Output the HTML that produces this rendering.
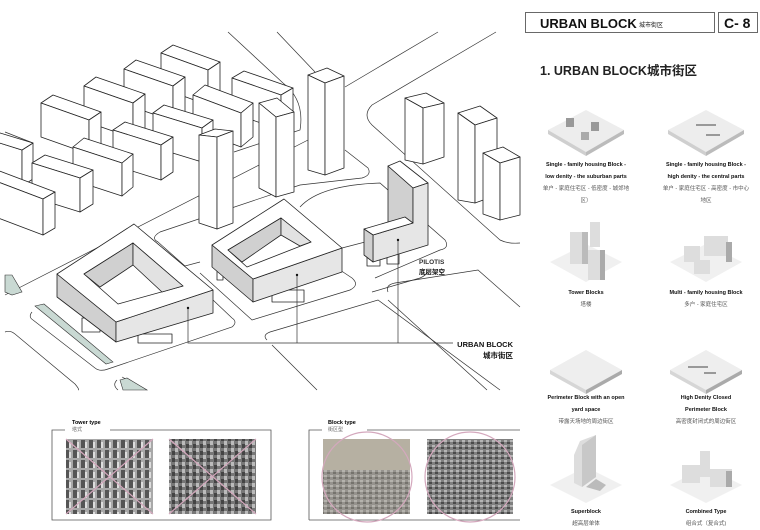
<!DOCTYPE html>
<html><head><meta charset="utf-8"><style>
html,body{margin:0;padding:0;background:#fff;}
body{width:760px;height:529px;overflow:hidden;position:relative;font-family:"Liberation Sans","Noto Sans CJK SC",sans-serif;}
svg{position:absolute;left:0;top:0;}
.cap{position:absolute;width:120px;text-align:center;font-size:5.5px;line-height:12px;color:#111;}
.cap b{font-weight:bold;}
.cap span{color:#555;}
</style></head><body>
<svg width="760" height="529" viewBox="0 0 760 529" xmlns="http://www.w3.org/2000/svg">
<defs>
<pattern id="p1" width="8" height="10" patternUnits="userSpaceOnUse"><rect width="8" height="10" fill="#a8a8a8"/><rect x="1" y="0" width="4" height="8" fill="#555"/><rect x="5" y="2" width="2" height="6" fill="#ddd"/></pattern>
<pattern id="p2" width="7" height="7" patternUnits="userSpaceOnUse"><rect width="7" height="7" fill="#777"/><rect x="0" y="0" width="3" height="4" fill="#bbb"/><rect x="4" y="3" width="3" height="4" fill="#444"/></pattern>
<pattern id="p3" width="6" height="5" patternUnits="userSpaceOnUse"><rect width="6" height="5" fill="#808080"/><rect x="0" y="0" width="3" height="2" fill="#b5b5b5"/><rect x="3" y="2" width="3" height="2" fill="#4a4a4a"/></pattern>
</defs>
<g fill="none" stroke="#333" stroke-width="0.7">
<path d="M228,32 L283,83"/><path d="M277,32 L315,72"/><path d="M438,32 L345,87"/>
<path d="M496,32 L372,105 Q362,115 372,125 L500,240 Q508,244 520,243"/>
<path d="M5,295 L308,140"/>
<path d="M5,132 L33,143"/>
<path d="M234,152 L300,130 Q305,100 283,83"/>
<path d="M345,150 L368,168 Q372,175 362,178 L300,185 L160,232 Q150,238 158,242 L185,266 L200,262"/>
<path d="M300,207 Q320,185 380,183 L445,240 Q450,248 440,250 L375,278"/>
<path d="M342,248 L400,233"/>
<path d="M200,273 L252,320 L350,290 Q360,285 352,278 L340,270"/>
<path d="M32,312 Q28,317 33,320 L95,368 Q100,372 108,369 L232,327 Q238,322 232,318 L213,300"/>
<path d="M5,332 Q10,330 15,334 L75,384 Q80,390 78,390"/>
<path d="M117,380 Q112,385 118,390"/><path d="M122,377 L147,390"/>
<path d="M267,340 Q262,335 270,332 L378,300 L500,390"/>
<path d="M272,345 L317,390"/>
<path d="M388,292 Q385,285 395,283 L478,270 L520,307"/>
<path d="M388,300 L487,390"/>
<path d="M372,292 L420,278 Q425,276 428,272"/>
</g>
<polygon points="5,275 12,275 22,292 12,295 5,292" fill="#c9d9d3" stroke="#333" stroke-width="0.6"/>
<polygon points="35,306 44,304 113,362 106,364" fill="#c9d9d3" stroke="#333" stroke-width="0.6"/>
<polygon points="120,380 127,378 147,390 123,390" fill="#c9d9d3" stroke="#333" stroke-width="0.6"/>
<g fill="#fff" stroke="#222" stroke-width="0.8" stroke-linejoin="round">
<polygon points="173,45 220,62 208,70 161,53"/><polygon points="161,53 208,70 208,105 161,88"/><polygon points="208,70 220,62 220,97 208,105"/>
<polygon points="136,60 185,77 173,86 124,69"/><polygon points="124,69 173,86 173,121 124,104"/><polygon points="173,86 185,77 185,112 173,121"/>
<polygon points="244,71 293,88 281,95 232,78"/><polygon points="232,78 281,95 281,130 232,113"/><polygon points="281,95 293,88 293,123 281,130"/>
<polygon points="96,77 145,94 133,103 84,86"/><polygon points="84,86 133,103 133,138 84,121"/><polygon points="133,103 145,94 145,129 133,138"/>
<polygon points="205,85 253,103 241,113 193,95"/><polygon points="193,95 241,113 241,147 193,129"/><polygon points="241,113 253,103 253,137 241,147"/>
<polygon points="53,95 101,112 89,120 41,103"/><polygon points="41,103 89,120 89,154 41,137"/><polygon points="89,120 101,112 101,146 89,154"/>
<polygon points="164,105 213,120 202,128 153,113"/><polygon points="153,113 202,128 202,162 153,147"/><polygon points="202,128 213,120 213,154 202,162"/>
<polygon points="125,122 173,137 161,145 113,130"/><polygon points="113,130 161,145 161,180 113,165"/><polygon points="161,145 173,137 173,172 161,180"/>
<polygon points="84,138 133,154 122,163 73,147"/><polygon points="73,147 122,163 122,196 73,180"/><polygon points="122,163 133,154 133,187 122,196"/>
<polygon points="-10,140 22,150 22,186 -10,176"/><polygon points="22,150 33,143 33,179 22,186"/><polygon points="-10,140 22,150 33,143 0,133"/>
<polygon points="45,155 93,170 80,178 32,163"/><polygon points="32,163 80,178 80,212 32,197"/><polygon points="80,178 93,170 93,204 80,212"/>
<polygon points="-3,170 55,192 43,199 -15,177"/><polygon points="-15,177 43,199 43,235 -15,213"/><polygon points="43,199 55,192 55,228 43,235"/>
<polygon points="327,68 344,76 325,83 308,75"/><polygon points="308,75 325,83 325,175 308,170"/><polygon points="325,83 344,76 344,168 325,175"/>
<polygon points="277,98 294,112 276,117 259,103"/><polygon points="259,103 276,117 276,197 259,188"/><polygon points="276,117 294,112 294,192 276,197"/>
<polygon points="215,129 233,131 217,137 199,135"/><polygon points="199,135 217,137 217,229 199,223"/><polygon points="217,137 233,131 233,223 217,229"/>
<polygon points="426,93 444,103 423,108 405,98"/><polygon points="405,98 423,108 423,164 405,160"/><polygon points="423,108 444,103 444,157 423,164"/>
<polygon points="480,106 497,118 475,125 458,113"/><polygon points="458,113 475,125 475,203 458,200"/><polygon points="475,125 497,118 497,195 475,203"/>
<polygon points="503,147 520,157 500,163 483,153"/><polygon points="483,153 500,163 500,220 483,214"/><polygon points="500,163 520,157 520,215 500,220"/>
<rect x="82" y="318" width="18" height="14"/><rect x="138" y="334" width="34" height="9"/>
<rect x="217" y="268" width="6" height="12"/><rect x="272" y="290" width="32" height="12"/>
<rect x="367" y="253" width="13" height="13"/><rect x="387" y="252" width="12" height="12"/>
<polygon points="57,274 116,322 116,342 57,297" fill="#d0d0d0"/>
<polygon points="116,322 213,290 213,313 116,342" fill="#e6e6e6"/>
<polygon points="57,274 134,224 213,290 116,322"/>
<polygon points="84,274 133,243 183,286 118,304"/>
<polygon points="84,274 133,243 133,265 100,287" fill="#d0d0d0"/>
<polygon points="133,243 183,286 162,292 133,265" fill="#e2e2e2"/>
<polygon points="212,245 253,279 253,302 212,267" fill="#d0d0d0"/>
<polygon points="253,279 342,248 342,272 253,302" fill="#e6e6e6"/>
<polygon points="212,245 284,199 342,248 253,279"/>
<polygon points="228,250 281,218 311,242 247,267"/>
<polygon points="228,250 281,218 281,235 242,262" fill="#d0d0d0"/>
<polygon points="281,218 311,242 300,246 281,235" fill="#e2e2e2"/>
<polygon points="388,166 413,188 413,223 388,229" fill="#d0d0d0"/>
<polygon points="388,166 400,161 428,183 413,188"/>
<polygon points="373,235 413,223 413,188 428,183 428,245 373,262" fill="#e6e6e6"/>
<polygon points="364,229 405,217 413,223 373,235"/>
<polygon points="364,229 373,235 373,262 364,255" fill="#d0d0d0"/>
</g>
<g stroke="#333" stroke-width="0.7" fill="none">
<path d="M188,308 L188,343 L453,343"/><path d="M297,275 L297,343"/><path d="M398,240 L398,343"/>
</g>
<circle cx="188" cy="308" r="1.2" fill="#111"/><circle cx="297" cy="275" r="1.2" fill="#111"/><circle cx="398" cy="240" r="1.2" fill="#111"/>
<g font-family="Liberation Sans, Noto Sans CJK SC, sans-serif" font-weight="bold" fill="#111">
<text x="513" y="347" font-size="7.5" text-anchor="end">URBAN BLOCK</text>
<text x="513" y="358" font-size="7.5" text-anchor="end">城市街区</text>
<text x="419" y="264" font-size="6.5" fill="#333">PILOTIS</text>
<text x="419" y="274" font-size="6.5">底层架空</text>
</g>
<g fill="none" stroke="#555" stroke-width="0.8">
<path d="M65,430 L52,430 L52,520 L271,520 L271,430 L110,430"/>
<path d="M322,430 L309,430 L309,520 M309,520 L520,520 M520,430 L367,430"/>
</g>
<g font-family="Liberation Sans, Noto Sans CJK SC, sans-serif">
<text x="72" y="424" font-size="5.5" font-weight="bold">Tower type</text>
<text x="72" y="431" font-size="5" fill="#666">塔式</text>
<text x="328" y="424" font-size="5.5" font-weight="bold">Block type</text>
<text x="328" y="431" font-size="5" fill="#666">街区型</text>
</g>
<rect x="66" y="439" width="87" height="75" fill="url(#p1)"/>
<rect x="169" y="439" width="87" height="75" fill="url(#p2)"/>
<rect x="323" y="439" width="87" height="75" fill="#b6b0a2"/>
<rect x="323" y="470" width="87" height="44" fill="url(#p3)" opacity="0.6"/>
<rect x="427" y="439" width="86" height="75" fill="url(#p3)"/>
<g stroke="#d4a8bd" stroke-width="1.2" fill="none">
<path d="M66,439 L153,514 M153,439 L66,514"/><path d="M169,439 L256,514 M256,439 L169,514"/>
<circle cx="367" cy="477" r="45"/><circle cx="470" cy="477" r="45"/>
</g>
<rect x="525.5" y="12.5" width="189" height="20" fill="none" stroke="#444" stroke-width="0.8"/>
<rect x="718.5" y="12.5" width="39" height="20" fill="none" stroke="#444" stroke-width="0.8"/>
<g font-family="Liberation Sans, Noto Sans CJK SC, sans-serif" font-weight="bold" fill="#111">
<text x="540" y="28" font-size="13">URBAN BLOCK</text>
<text x="639" y="27" font-size="6" font-weight="normal">城市街区</text>
<text x="724" y="28" font-size="14">C- 8</text>
<text x="540" y="75" font-size="12.5" fill="#222">1. URBAN BLOCK城市街区</text>
</g>
<g stroke="none">
<g transform="translate(586,130)"><polygon points="-38,0 0,-20 38,0 0,22" fill="#ededed"/><polygon points="-38,0 0,22 0,26 -38,4" fill="#cfcfcf"/><polygon points="0,22 38,0 38,4 0,26" fill="#bbb"/><rect x="-20" y="-12" width="8" height="9" fill="#999"/><rect x="5" y="-8" width="8" height="9" fill="#999"/><rect x="-5" y="2" width="8" height="8" fill="#aaa"/></g>
<g transform="translate(706,130)"><polygon points="-38,0 0,-20 38,0 0,22" fill="#ededed"/><polygon points="-38,0 0,22 0,26 -38,4" fill="#cfcfcf"/><polygon points="0,22 38,0 38,4 0,26" fill="#bbb"/><rect x="-10" y="-6" width="20" height="2" fill="#999"/><rect x="0" y="4" width="14" height="2" fill="#999"/></g>
<g transform="translate(586,262)"><polygon points="-36,0 0,-18 36,0 0,20" fill="#f0f0f0"/><rect x="-16" y="-30" width="12" height="32" fill="#ddd"/><rect x="-4" y="-30" width="6" height="32" fill="#bbb"/><rect x="4" y="-40" width="10" height="25" fill="#ddd"/><rect x="2" y="-12" width="12" height="30" fill="#ddd"/><rect x="14" y="-12" width="5" height="30" fill="#aaa"/></g>
<g transform="translate(706,262)"><polygon points="-36,0 0,-18 36,0 0,20" fill="#f0f0f0"/><rect x="-22" y="-16" width="16" height="16" fill="#ddd"/><rect x="-2" y="-26" width="24" height="20" fill="#ddd"/><rect x="-12" y="-2" width="16" height="14" fill="#ddd"/><rect x="20" y="-20" width="6" height="20" fill="#aaa"/></g>
<g transform="translate(586,370)"><polygon points="-36,0 0,-20 36,0 0,20" fill="#eeeeee"/><polygon points="-36,0 0,20 0,24 -36,4" fill="#d6d6d6"/><polygon points="0,20 36,0 36,4 0,24" fill="#aaa"/></g>
<g transform="translate(706,370)"><polygon points="-36,0 0,-20 36,0 0,20" fill="#eeeeee"/><polygon points="-36,0 0,20 0,24 -36,4" fill="#d6d6d6"/><polygon points="0,20 36,0 36,4 0,24" fill="#aaa"/><rect x="-18" y="-4" width="20" height="2" fill="#999"/><rect x="-2" y="2" width="12" height="2" fill="#999"/></g>
<g transform="translate(586,485)"><polygon points="-36,0 0,-18 36,0 0,18" fill="#f0f0f0"/><polygon points="-12,-30 -6,-44 10,-50 10,-8 -4,2 -12,-2" fill="#ddd"/><polygon points="-4,-40 10,-50 10,-8 -4,2" fill="#c8c8c8"/><polygon points="10,-6 20,0 14,6 0,2" fill="#bbb"/></g>
<g transform="translate(706,485)"><polygon points="-36,0 0,-18 36,0 0,18" fill="#f0f0f0"/><rect x="-24" y="-20" width="18" height="18" fill="#ddd"/><rect x="-6" y="-34" width="10" height="26" fill="#ddd"/><rect x="4" y="-16" width="22" height="18" fill="#ddd"/><rect x="20" y="-14" width="6" height="16" fill="#aaa"/></g>
</g>
</svg>
<div class="cap" style="left:526px;top:159px;"><b>Single - family housing Block -<br>low denity - the suburban parts</b><br><span>单户 - 家庭住宅区 - 低密度 - 城郊地<br>区）</span></div>
<div class="cap" style="left:646px;top:159px;"><b>Single - family housing Block -<br>high denity - the central parts</b><br><span>单户 - 家庭住宅区 - 高密度 - 市中心<br>地区</span></div>
<div class="cap" style="left:526px;top:287px;"><b>Tower Blocks</b><br><span>塔楼</span></div>
<div class="cap" style="left:646px;top:287px;"><b>Multi - family housing Block</b><br><span>多户 - 家庭住宅区</span></div>
<div class="cap" style="left:521px;top:392px;width:130px;"><b>Perimeter Block with an open<br>yard space</b><br><span>带露天场地的周边街区</span></div>
<div class="cap" style="left:646px;top:392px;"><b>High Denity Closed<br>Perimeter Block</b><br><span>高密度封闭式的周边街区</span></div>
<div class="cap" style="left:526px;top:506px;"><b>Superblock</b><br><span>超高层单体</span></div>
<div class="cap" style="left:646px;top:506px;"><b>Combined Type</b><br><span>组合式（复合式)</span></div>
</body></html>
